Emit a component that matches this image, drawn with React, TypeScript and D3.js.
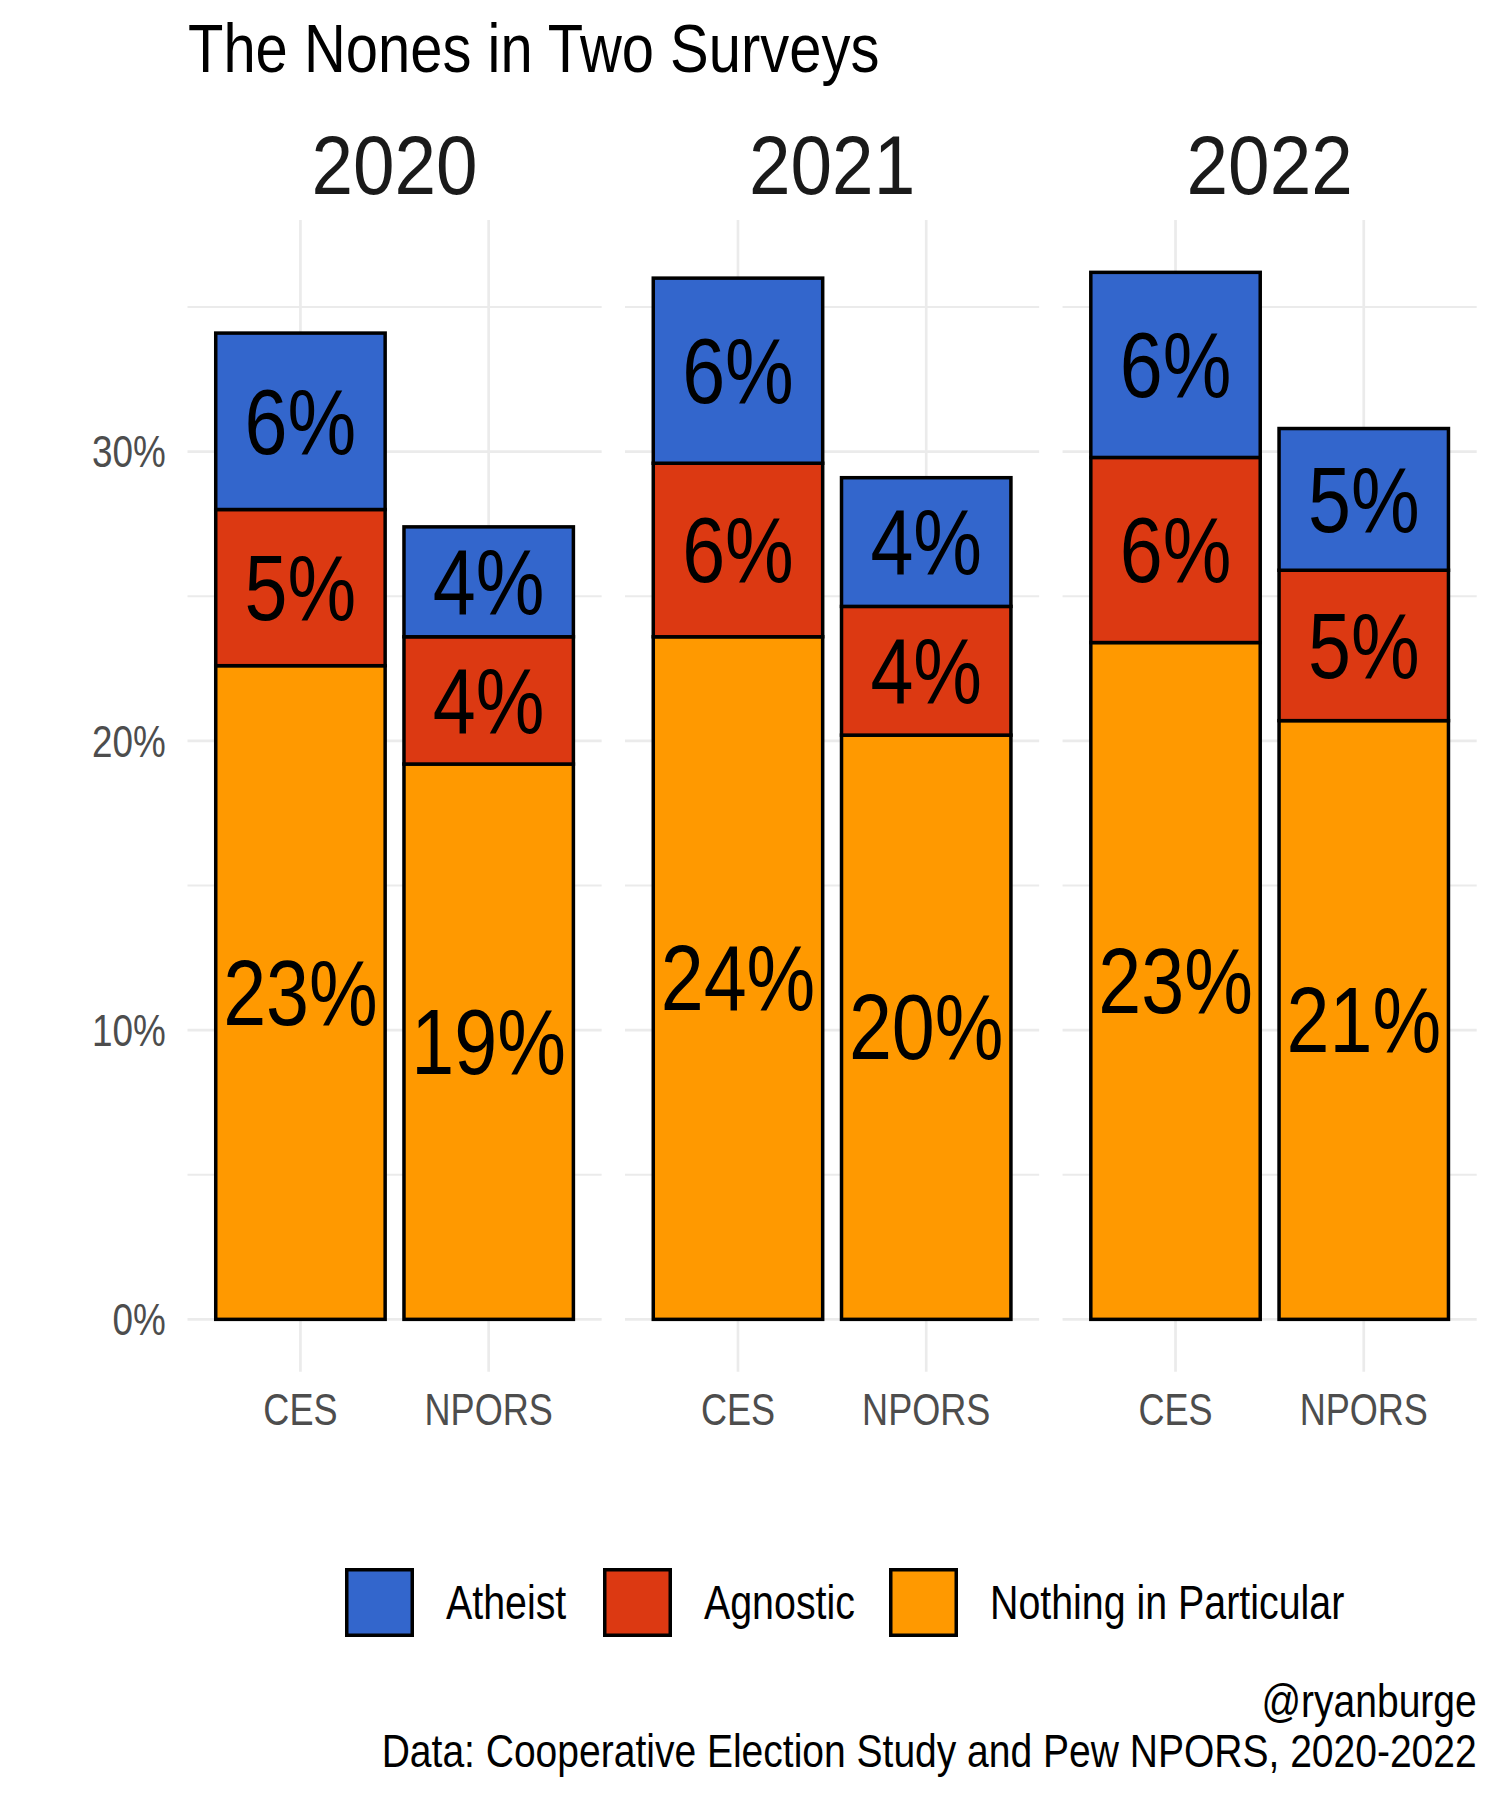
import React from 'react';
import * as d3 from 'd3';

// facet years, surveys inside each facet
const years = ['2020', '2021', '2022'];
const surveys = ['CES', 'NPORS'];

// values per year x survey, in order 2020 CES, 2020 NPORS, 2021 CES, ...
const nothingVals = [22.6, 19.2, 23.6, 20.2, 23.4, 20.7];
const agnosticVals = [5.4, 4.4, 6.0, 4.45, 6.4, 5.2];
const atheistVals = [6.1, 3.8, 6.4, 4.45, 6.4, 4.9];

const seriesKeys = ['nothing', 'agnostic', 'atheist'];
const legendKeys = ['atheist', 'agnostic', 'nothing'];
const seriesLabels: Record<string, string> = {
  atheist: 'Atheist',
  agnostic: 'Agnostic',
  nothing: 'Nothing in Particular',
};
const seriesColors: Record<string, string> = {
  atheist: '#3366CC',
  agnostic: '#DC3912',
  nothing: '#FF9900',
};

const yMajor = [0, 10, 20, 30];
const yMinor = [5, 15, 25, 35];

// no narrow font installed, so squeeze Liberation Sans horizontally
const FONT = "'Liberation Sans', Arial, sans-serif";
const SQUEEZE = 0.82;

const W = 1500;
const H = 1800;
const panelLeft = 187.5;
const panelRight = 1476.7;
const panelTop = 220;
const panelBottom = 1371.7;

const rows = years.flatMap((year, yi) =>
  surveys.map((survey, si) => {
    const i = yi * surveys.length + si;
    return {
      year,
      survey,
      nothing: nothingVals[i],
      agnostic: agnosticVals[i],
      atheist: atheistVals[i],
    };
  })
);

type NTextProps = {
  x: number;
  y: number;
  size: number;
  fill?: string;
  anchor?: 'start' | 'middle' | 'end';
  dy?: string;
  sq?: number;
  children: React.ReactNode;
};

const NText: React.FC<NTextProps> = ({ x, y, size, fill = '#000', anchor = 'start', dy, sq = SQUEEZE, children }) => (
  <text transform={`translate(${x},${y}) scale(${sq},1)`} dy={dy}
    fontSize={size} fill={fill} textAnchor={anchor}>
    {children}
  </text>
);

const App: React.FC = () => {
  const facet = d3.scaleBand<string>()
    .domain(years)
    .range([panelLeft, panelRight])
    .paddingInner(0.0535)
    .paddingOuter(0);

  const pw = facet.bandwidth();
  const x = d3.scalePoint<string>()
    .domain(surveys)
    .range([0, pw])
    .padding(0.6);
  const barW = x.step() * 0.9;

  const maxTotal = d3.max(rows, d => d.nothing + d.agnostic + d.atheist) || 0;
  const pad = maxTotal * 0.05;
  const y = d3.scaleLinear()
    .domain([-pad, maxTotal + pad])
    .range([panelBottom, panelTop]);

  const stacked = d3.stack<any>().keys(seriesKeys)(rows);

  // legend layout
  const keySize = 69;
  const legendTextW: Record<string, number> = { atheist: 125, agnostic: 153, nothing: 358 };
  const legendY = 1568;
  let lx = 345;
  const legendItems = legendKeys.map(k => {
    const item = { k, x: lx };
    lx += keySize + 32 + legendTextW[k] + 32;
    return item;
  });

  return (
    <svg width={W} height={H} style={{ position: 'absolute', left: 0, top: 0, background: '#fff' }}
      fontFamily={FONT}>
      <rect x={0} y={0} width={W} height={H} fill="#fff" />

      <NText x={188} y={72} size={69} sq={0.84}>The Nones in Two Surveys</NText>

      {years.map(year => {
        const px = facet(year) || 0;
        return (
          <g key={year}>
            {/* grid */}
            {yMinor.map(v => (
              <line key={'mi' + v} x1={px} x2={px + pw} y1={y(v)} y2={y(v)}
                stroke="#ebebeb" strokeWidth={2} />
            ))}
            {yMajor.map(v => (
              <line key={'ma' + v} x1={px} x2={px + pw} y1={y(v)} y2={y(v)}
                stroke="#ebebeb" strokeWidth={2.7} />
            ))}
            {surveys.map(s => (
              <line key={'v' + s} x1={px + (x(s) || 0)} x2={px + (x(s) || 0)}
                y1={panelTop} y2={panelBottom} stroke="#ebebeb" strokeWidth={2.7} />
            ))}

            {/* strip */}
            <NText x={px + pw / 2} y={194} size={83} sq={0.9} fill="#1a1a1a" anchor="middle">{year}</NText>

            {/* x labels */}
            {surveys.map(s => (
              <NText key={'xl' + s} x={px + (x(s) || 0)} y={1424.5} size={44}
                fill="#4d4d4d" anchor="middle">{s}</NText>
            ))}
          </g>
        );
      })}

      {/* y labels */}
      {yMajor.map(v => (
        <NText key={'yl' + v} x={165.7} y={y(v)} dy="0.35em" size={45}
          fill="#4d4d4d" anchor="end">{v + '%'}</NText>
      ))}

      {/* bars */}
      {stacked.map(layer => (
        <g key={layer.key}>
          {layer.map((seg, i) => {
            const d = seg.data;
            const cx = (facet(d.year) || 0) + (x(d.survey) || 0);
            return (
              <rect key={i} x={cx - barW / 2} y={y(seg[1])} width={barW}
                height={y(seg[0]) - y(seg[1])} fill={seriesColors[layer.key]}
                stroke="#000" strokeWidth={3.5} />
            );
          })}
        </g>
      ))}

      {/* bar labels */}
      {stacked.map(layer => (
        <g key={'lab' + layer.key}>
          {layer.map((seg, i) => {
            const d = seg.data;
            const cx = (facet(d.year) || 0) + (x(d.survey) || 0);
            const val = d[layer.key] as number;
            return (
              <NText key={i} x={cx} y={y((seg[0] + seg[1]) / 2)} dy="0.35em"
                size={92} sq={0.84} anchor="middle">
                {Math.round(val) + '%'}
              </NText>
            );
          })}
        </g>
      ))}

      {/* legend */}
      {legendItems.map(it => (
        <g key={it.k}>
          <rect x={it.x + 1.75} y={legendY + 1.75} width={keySize - 3.5} height={keySize - 3.5}
            fill={seriesColors[it.k]} stroke="#000" strokeWidth={3.5} />
          <NText x={it.x + keySize + 32} y={legendY + keySize / 2} dy="0.35em" size={48}>
            {seriesLabels[it.k]}
          </NText>
        </g>
      ))}

      {/* caption */}
      <NText x={panelRight} y={1716.7} size={47} sq={0.83} anchor="end">@ryanburge</NText>
      <NText x={panelRight} y={1766.7} size={47} sq={0.83} anchor="end">
        Data: Cooperative Election Study and Pew NPORS, 2020-2022
      </NText>
    </svg>
  );
};

export default App;
